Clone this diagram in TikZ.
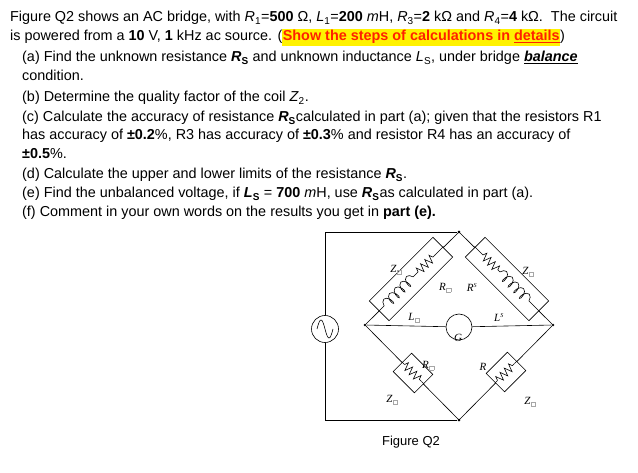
\documentclass[tikz,border=0pt]{standalone}
\usepackage{fontspec}
\setmainfont{Liberation Sans}
\newfontfamily\serifx{Liberation Serif}
\usetikzlibrary{decorations.pathmorphing}
\newcommand{\sbx}{\kern0.6pt\raisebox{-1pt}{\color{gray!70}\fboxsep0pt\fboxrule0.3pt\fbox{\rule{0pt}{4pt}\kern4pt}}}
\newcommand{\ssub}[1]{\textsubscript{#1}}
\newcommand{\hl}[1]{{\fboxsep0.5pt\colorbox{yellow}{\strut\color{red!75!orange}\bfseries #1}}}
\begin{document}
\begin{tikzpicture}[x=1pt,y=-1pt,
  txt/.style={anchor=base west,inner sep=0pt,font=\fontsize{14.4}{16}\selectfont},
  lab/.style={inner sep=0pt,font=\serifx\itshape\fontsize{11}{12}\selectfont},
  w/.style={line width=0.6pt},
  dot/.style={circle,fill,inner sep=1.2pt},
  zz/.style={decorate,decoration={zigzag,segment length=6pt,amplitude=4pt}},
  cl/.style={decorate,decoration={coil,segment length=8pt,amplitude=5pt,aspect=0.5}}]
\useasboundingbox (0,0) rectangle (638,473);
\node[txt] (l1) at (10,22) {Figure Q2 shows an AC bridge, with \textit{R}\ssub{1}=\textbf{500} Ω, \textit{L}\ssub{1}=\textbf{200} \textit{m}H, \textit{R}\ssub{3}=\textbf{2} kΩ and \textit{R}\ssub{4}=\textbf{4} kΩ.\ \ The circuit};
\node[txt] (l2) at (10,41) {is powered from a \textbf{10} V, \textbf{1} kHz ac source. (\hl{Show the steps of calculations in \underline{details}})};
\node[txt] (l3) at (22,62) {(a) Find the unknown resistance \textbf{\textit{R}\ssub{S}} and unknown inductance \textit{L}\ssub{S}, under bridge \textbf{\textit{\underline{balance}}}};
\node[txt] (l4) at (22,81) {condition.};
\node[txt] (l5) at (22,102) {(b) Determine the quality factor of the coil \textit{Z}\ssub{2}.};
\node[txt] (l6) at (22,122) {(c) Calculate the accuracy of resistance \textbf{\textit{R}\ssub{S}}calculated in part (a); given that the resistors R1};
\node[txt] (l7) at (22,140) {has accuracy of \textbf{±0.2}\%, R3 has accuracy of \textbf{±0.3}\% and resistor R4 has an accuracy of};
\node[txt] (l8) at (22,159) {\textbf{±0.5}\%.};
\node[txt] (l9) at (22,179) {(d) Calculate the upper and lower limits of the resistance \textbf{\textit{R}\ssub{S}}.};
\node[txt] (l10) at (22,198) {(e) Find the unbalanced voltage, if \textbf{\textit{L}\ssub{S}} = \textbf{700} \textit{m}H, use \textbf{\textit{R}\ssub{S}}as calculated in part (a).};
\node[txt] (l11) at (22,217) {(f) Comment in your own words on the results you get in \textbf{part (e).}};
% circuit nodes
\node[dot,inner sep=1pt] (T) at (459,232) {};
\node[dot,inner sep=1pt] (L) at (365,325) {};
\node[dot,inner sep=1pt] (R) at (553,325) {};
\node[dot,inner sep=1pt] (B) at (459,420) {};
\node[circle,draw,w,minimum size=27pt,inner sep=0pt] (S) at (325,329) {};
\draw[w] ([xshift=-8pt]S.center) .. controls +(3,-12) and +(-3,-12) .. (S.center) .. controls +(3,12) and +(-3,12) .. ([xshift=8pt]S.center);
\node[circle,draw,w,minimum size=26pt,inner sep=0pt] (G) at (459,327) {};
\draw[w] (S.north) |- (T) (S.south) |- (B);
\draw[w] (L) -- (G) -- (R);
\draw[w] (L) -- (T) -- (R) -- (B) -- (L);
% Z1
\begin{scope}[shift={(411,279)},rotate=45]
 \draw[w,fill=white] (-45,-14) rectangle (45,14);
 \draw[w] (-46,0) -- (-38,0);
 \draw[w,cl] (-38,0) -- (10,0);
 \draw[w,zz] (10,0) -- (34,0);
 \draw[w] (34,0) -- (46,0);
\end{scope}
% Z2
\begin{scope}[shift={(507,279)},rotate=-45]
 \draw[w,fill=white] (-45,-14) rectangle (45,14);
 \draw[w] (-46,0) -- (-34,0);
 \draw[w,zz] (-34,0) -- (-10,0);
 \draw[w,cl] (-10,0) -- (38,0);
 \draw[w] (38,0) -- (46,0);
\end{scope}
% Z3
\begin{scope}[shift={(413,373)},rotate=-45]
 \draw[w,fill=white] (-15,-13) rectangle (15,13);
 \draw[w] (-16,0) -- (-12,0);
 \draw[w,zz] (-12,0) -- (12,0);
 \draw[w] (12,0) -- (16,0);
\end{scope}
% Z4
\begin{scope}[shift={(506,372)},rotate=45]
 \draw[w,fill=white] (-15,-13) rectangle (15,13);
 \draw[w] (-16,0) -- (-12,0);
 \draw[w,zz] (-12,0) -- (12,0);
 \draw[w] (12,0) -- (16,0);
\end{scope}
\node[dot,inner sep=1pt] at (T) {};
\node[dot,inner sep=1pt] at (B) {};
% labels
\node[lab] (z1) at (396,270) {Z\sbx};
\node[lab] (z2) at (528,272) {Z\sbx};
\node[lab] (z3) at (392,400) {Z\sbx};
\node[lab] (z4) at (530,402) {Z\sbx};
\node[lab] (r1) at (445,288) {R\sbx};
\node[lab] (rs) at (472,288) {R\textsuperscript{\fontsize{6}{6}\selectfont S}};
\node[lab] (l1c) at (414,318) {L\sbx};
\node[lab] (ls) at (499,318) {L\textsuperscript{\fontsize{6}{6}\selectfont S}};
\node[lab] (gl) at (458,338) {G};
\node[lab] (r3) at (428,366) {R\sbx};
\node[lab] (r4) at (483,367) {R};
\node[txt,anchor=base] (cap) at (411,446) {\fontsize{13}{15}\selectfont Figure Q2};
\end{tikzpicture}
\end{document}
